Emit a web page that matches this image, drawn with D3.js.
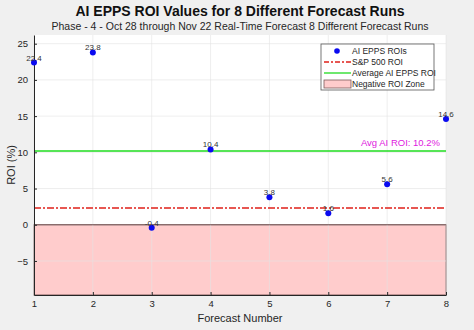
<!DOCTYPE html>
<html><head><meta charset="utf-8">
<script src="https://cdn.jsdelivr.net/npm/d3@7"></script>
<style>html,body{margin:0;padding:0;background:#f0f0f0;}svg{display:block;font-family:Arial,"Liberation Sans",Helvetica,sans-serif;}</style>
</head><body>
<script>
const runs = [1,2,3,4,5,6,7,8];
const roi = [22.4,23.8,-0.4,10.4,3.8,1.6,5.6,14.6];
const spRoi = 2.3;
const avgRoi = 10.2;
const yTicks = [-5,0,5,10,15,20,25];
const xTicks = [1,2,3,4,5,6,7,8];
const legendLabels = ["AI EPPS ROIs","S&P 500 ROI","Average AI EPPS ROI","Negative ROI Zone"];

const W=474,H=330;
const m={l:34,r:28,t:35,b:35};
const svg=d3.select("body").append("svg").attr("width",W).attr("height",H);
svg.append("rect").attr("width",W).attr("height",H).attr("fill","#f0f0f0");
const x=d3.scaleLinear().domain([1,8]).range([m.l,W-m.r]);
const y=d3.scaleLinear().domain([-9.7,26.2]).range([H-m.b,m.t]);
const pw=W-m.r-m.l;
svg.append("rect").attr("x",m.l).attr("y",m.t).attr("width",pw).attr("height",H-m.b-m.t).attr("fill","#fff");
// grid
const g=svg.append("g");
g.selectAll(".gx").data(xTicks).enter().append("line").attr("x1",d=>x(d)).attr("x2",d=>x(d)).attr("y1",m.t).attr("y2",H-m.b).attr("stroke","#e2e2e2").attr("stroke-width",1);
g.selectAll(".gy").data(yTicks).enter().append("line").attr("y1",d=>y(d)).attr("y2",d=>y(d)).attr("x1",m.l).attr("x2",W-m.r).attr("stroke","#e2e2e2").attr("stroke-width",1);
// negative zone
svg.append("rect").attr("x",m.l).attr("y",y(0)).attr("width",pw).attr("height",y(-9.7)-y(0)).attr("fill","#ffcccc").attr("stroke","#7a5a5a").attr("stroke-width",1);
g.raise();
g.selectAll("line").attr("stroke-opacity",0.6);
svg.append("line").attr("x1",m.l).attr("x2",W-m.r).attr("y1",y(0)).attr("y2",y(0)).attr("stroke","#7a5a5a").attr("stroke-width",1);
// S&P line
svg.append("line").attr("x1",m.l).attr("x2",W-m.r).attr("y1",y(spRoi)).attr("y2",y(spRoi)).attr("stroke","#e0201a").attr("stroke-width",1.5).attr("stroke-dasharray","7,2,2,2");
// avg line
svg.append("line").attr("x1",m.l).attr("x2",W-m.r).attr("y1",y(avgRoi)).attr("y2",y(avgRoi)).attr("stroke","#1fdc1f").attr("stroke-width",1.5);
svg.append("text").attr("x",W-m.r-6).attr("y",y(avgRoi)-5).attr("text-anchor","end").attr("font-size",9.5).attr("fill","#e020e0").text("Avg AI ROI: "+avgRoi.toFixed(1)+"%");
// axes
const ax=svg.append("g").attr("transform",`translate(0,${H-m.b})`).call(d3.axisBottom(x).tickValues(xTicks).tickFormat(d3.format("d")).tickSize(3).tickSizeOuter(0));
const ay=svg.append("g").attr("transform",`translate(${m.l},0)`).call(d3.axisLeft(y).tickValues(yTicks).tickSize(3).tickSizeOuter(0));
[ax,ay].forEach(a=>{a.select(".domain").attr("stroke","#262626");a.selectAll(".tick line").attr("stroke","#262626");a.selectAll("text").attr("fill","#262626").attr("font-size",9.5).attr("font-family","Arial,'Liberation Sans',sans-serif");});
ay.selectAll(".tick line").attr("x2",3);
ax.selectAll(".tick line").attr("y2",-3);
ax.selectAll("text").attr("y",5).attr("dy","0.71em");
ay.selectAll("text").attr("x",-6);
// points
svg.selectAll(".pt").data(roi).enter().append("circle").attr("cx",(d,i)=>x(runs[i])).attr("cy",d=>y(d)).attr("r",3).attr("fill","#0a0af0");
svg.selectAll(".lbl").data(roi).enter().append("text").attr("x",(d,i)=>x(runs[i])).attr("y",d=>y(d)-2).attr("text-anchor","middle").attr("font-size",8).attr("fill","#333").text(d=>d.toFixed(1));
// titles
svg.append("text").attr("x",240).attr("y",16).attr("text-anchor","middle").attr("font-weight","bold").attr("font-size",14).attr("fill","#111").text("AI EPPS ROI Values for 8 Different Forecast Runs");
svg.append("text").attr("x",240).attr("y",30).attr("text-anchor","middle").attr("font-size",10.5).attr("fill","#262626").text("Phase - 4 - Oct 28 through Nov 22 Real-Time Forecast 8 Different Forecast Runs");
svg.append("text").attr("x",240).attr("y",322).attr("text-anchor","middle").attr("font-size",11).attr("fill","#262626").text("Forecast Number");
svg.append("text").attr("transform","translate(15,165) rotate(-90)").attr("text-anchor","middle").attr("font-size",11).attr("fill","#262626").text("ROI (%)");
// legend
const lg=svg.append("g").attr("transform","translate(321,44)");
lg.append("rect").attr("width",113).attr("height",46).attr("fill","#fff").attr("stroke","#555").attr("stroke-width",0.8);
const rowY=[7,18,29,40];
lg.append("circle").attr("cx",16).attr("cy",rowY[0]).attr("r",2.8).attr("fill","#0a0af0");
lg.append("line").attr("x1",3).attr("x2",30).attr("y1",rowY[1]).attr("y2",rowY[1]).attr("stroke","#e0201a").attr("stroke-width",1.3).attr("stroke-dasharray","5,2,2,2");
lg.append("line").attr("x1",3).attr("x2",30).attr("y1",rowY[2]).attr("y2",rowY[2]).attr("stroke","#1fdc1f").attr("stroke-width",1.3);
lg.append("rect").attr("x",3).attr("y",rowY[3]-4).attr("width",27).attr("height",8).attr("fill","#ffcccc").attr("stroke","#7a5a5a").attr("stroke-width",0.8);
lg.selectAll(".lt").data(legendLabels).enter().append("text").attr("x",31).attr("y",(d,i)=>rowY[i]+3).attr("font-size",8.5).attr("fill","#262626").text(d=>d);
</script>
</body></html>
